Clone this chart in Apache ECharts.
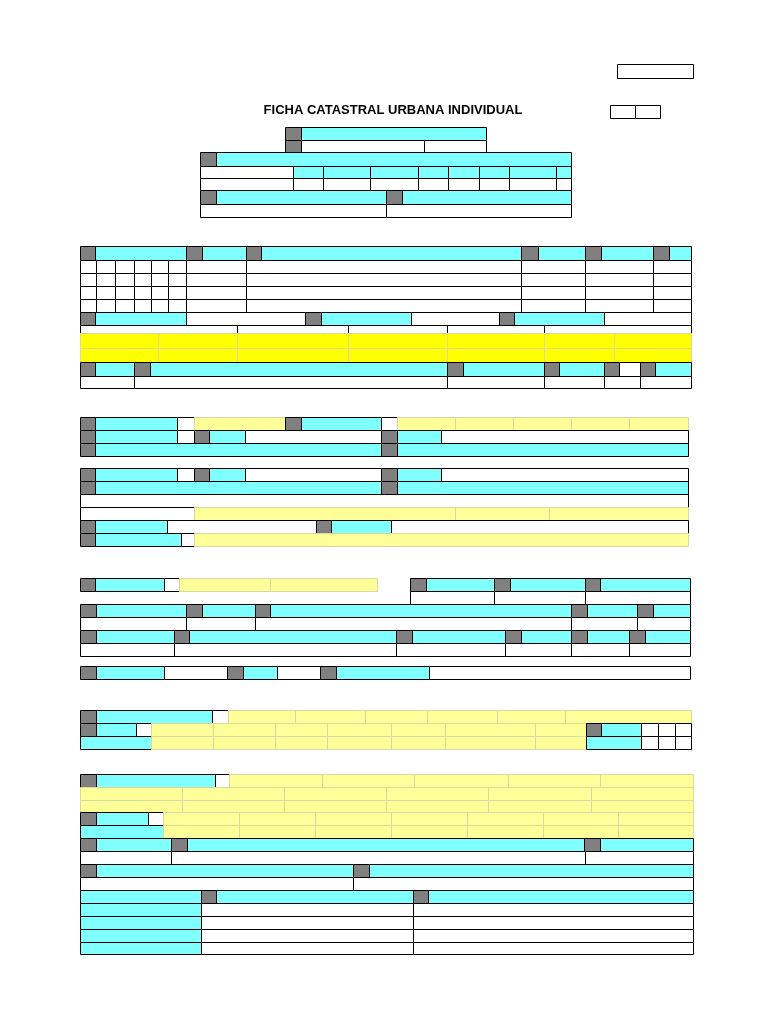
<!DOCTYPE html>
<html lang="en">
<head>
<meta charset="UTF-8">
<title>Ficha catastral</title>
<script src="https://cdn.jsdelivr.net/npm/echarts@6/dist/echarts.min.js"></script>
<style>html,body{margin:0;background:#fff}</style>
</head>
<body>
<div id="main" style="width:768px;height:1024px;"></div>
<script>
// each row: [top, bottom, cell edges, cell kinds]  g=gray c=cyan y=pale yellow Y=yellow w=white -=none
var rowsHeader = [
  [64, 78, [617, 693], 'w'],
  [105, 118, [610, 635, 660], 'ww']
];
var rowsBlock1 = [
  [127, 140, [285, 301, 486], 'gc'],
  [140, 152, [285, 301, 424, 486], 'gww'],
  [152, 166, [200, 216, 571], 'gc'],
  [166, 178, [200, 293, 323, 370, 418, 448, 479, 509, 556, 571], 'wcccccccc'],
  [178, 190, [200, 293, 323, 370, 418, 448, 479, 509, 556, 571], 'wwwwwwwww'],
  [190, 204, [200, 216, 386, 402, 571], 'gcgc'],
  [204, 217, [200, 386, 571], 'ww']
];
var rowsBlock2 = [
  [246, 260, [80, 95, 186, 202, 246, 261, 521, 538, 585, 601, 653, 669, 691], 'gcgcgcgcgcgc'],
  [260, 273, [80, 96, 115, 134, 151, 168, 186, 246, 521, 585, 653, 691], 'wwwwwwwwwww'],
  [273, 286, [80, 96, 115, 134, 151, 168, 186, 246, 521, 585, 653, 691], 'wwwwwwwwwww'],
  [286, 299, [80, 96, 115, 134, 151, 168, 186, 246, 521, 585, 653, 691], 'wwwwwwwwwww'],
  [299, 312, [80, 96, 115, 134, 151, 168, 186, 246, 521, 585, 653, 691], 'wwwwwwwwwww'],
  [312, 325, [80, 95, 186, 305, 321, 411, 499, 514, 604, 691], 'gcwgcwgcw'],
  [325, 333, [80, 237, 348, 447, 544, 691], 'wwwww'],
  [333, 348, [80, 158, 237, 348, 447, 544, 614, 691], 'YYYYYYY'],
  [348, 362, [80, 158, 237, 348, 447, 544, 614, 691], 'YYYYYYY'],
  [362, 376, [80, 95, 134, 150, 447, 463, 544, 559, 604, 619, 640, 655, 691], 'gcgcgcgcgwgc'],
  [376, 388, [80, 134, 447, 544, 604, 640, 691], 'wwwwww']
];
var rowsBlock3 = [
  [417, 430, [80, 95, 177, 194, 285, 301, 381, 397, 455, 513, 571, 629, 688], 'gcwygcwyyyyy'],
  [430, 443, [80, 95, 177, 194, 209, 245, 381, 397, 441, 688], 'gcwgcwgcw'],
  [443, 456, [80, 95, 381, 397, 688], 'gcgc'],
  [468, 481, [80, 95, 177, 194, 209, 245, 381, 397, 441, 688], 'gcwgcwgcw'],
  [481, 494, [80, 95, 381, 397, 688], 'gcgc'],
  [494, 507, [80, 688], 'w'],
  [507, 520, [80, 194, 455, 549, 688], 'wyyy'],
  [520, 533, [80, 95, 167, 316, 331, 391, 688], 'gcwgcw'],
  [533, 546, [80, 95, 181, 194, 688], 'gcwy']
];
var rowsBlock4 = [
  [578, 591, [80, 95, 164, 179, 270, 377, 410, 426, 494, 510, 585, 600, 690], 'gcwyy-gcgcgc'],
  [591, 604, [410, 494, 585, 690], 'www'],
  [604, 617, [80, 96, 186, 202, 255, 270, 571, 587, 637, 653, 690], 'gcgcgcgcgc'],
  [617, 630, [80, 186, 255, 571, 637, 690], 'wwwww'],
  [630, 643, [80, 96, 174, 189, 396, 412, 505, 521, 571, 587, 629, 645, 690], 'gcgcgcgcgcgc'],
  [643, 656, [80, 174, 396, 505, 571, 629, 690], 'wwwwww'],
  [666, 679, [80, 96, 164, 227, 243, 277, 320, 336, 429, 690], 'gcwgcwgcw']
];
var rowsBlock5 = [
  [710, 723, [80, 96, 212, 228, 295, 365, 427, 497, 565, 691], 'gcwyyyyyy'],
  [723, 736, [80, 96, 136, 151, 213, 275, 327, 391, 445, 535, 586, 601, 641, 658, 675, 691], 'gcwyyyyyyygcwww'],
  [736, 749, [80, 151, 213, 275, 327, 391, 445, 535, 586, 641, 658, 675, 691], 'cyyyyyyycwww']
];
var rowsBlock6 = [
  [774, 787, [80, 96, 215, 229, 322, 414, 508, 600, 693], 'gcwyyyyy'],
  [787, 800, [80, 182, 284, 386, 488, 591, 693], 'yyyyyy'],
  [800, 812, [80, 182, 284, 386, 488, 591, 693], 'yyyyyy'],
  [812, 825, [80, 96, 148, 163, 239, 315, 391, 467, 543, 618, 693], 'gcwyyyyyyy'],
  [825, 838, [80, 163, 239, 315, 391, 467, 543, 618, 693], 'cyyyyyyy'],
  [838, 851, [80, 96, 171, 187, 584, 600, 693], 'gcgcgc'],
  [851, 864, [80, 171, 585, 693], 'www'],
  [864, 877, [80, 96, 353, 369, 693], 'gcgc'],
  [877, 890, [80, 353, 693], 'ww'],
  [890, 903, [80, 201, 216, 413, 428, 693], 'cgcgc'],
  [903, 916, [80, 201, 413, 693], 'cww'],
  [916, 929, [80, 201, 413, 693], 'cww'],
  [929, 942, [80, 201, 413, 693], 'cww'],
  [942, 954, [80, 201, 413, 693], 'cww']
];
var titleText = 'FICHA CATASTRAL URBANA INDIVIDUAL';

var fills = { g: '#808080', c: '#80FFFF', y: '#FFFF99', Y: '#FFFF00', w: '#FFFFFF' };

var cells = [];
[rowsHeader, rowsBlock1, rowsBlock2, rowsBlock3, rowsBlock4, rowsBlock5, rowsBlock6].forEach(function (block) {
  block.forEach(function (r) {
    for (var i = 0; i < r[3].length; i++) {
      var k = r[3][i];
      if (k === '-') continue;
      cells.push([r[2][i], r[0], r[2][i + 1], r[1], k]);
    }
  });
});

var chart = echarts.init(document.getElementById('main'));
chart.setOption({
  animation: false,
  title: {
    text: titleText, left: 388, top: 99, textAlign: 'center',
    textStyle: { fontFamily: 'Liberation Sans', fontWeight: 'bold', fontSize: 13, color: '#000' }
  },
  grid: { left: 0, right: 0, top: 0, bottom: 0 },
  xAxis: { type: 'value', min: 0, max: 768, show: false },
  yAxis: { type: 'value', min: 0, max: 1024, inverse: true, show: false },
  series: [{
    type: 'custom',
    data: cells,
    encode: { x: [0, 2], y: [1, 3] },
    renderItem: function (params, api) {
      var p0 = api.coord([api.value(0), api.value(1)]);
      var p1 = api.coord([api.value(2), api.value(3)]);
      var k = cells[params.dataIndex][4];
      return {
        type: 'rect',
        shape: { x: Math.round(p0[0]) + 0.5, y: Math.round(p0[1]) + 0.5, width: Math.round(p1[0] - p0[0]), height: Math.round(p1[1] - p0[1]) },
        style: { fill: fills[k], stroke: k === 'y' || k === 'Y' ? '#d8d8a0' : '#000', lineWidth: 1 }
      };
    }
  }]
});
</script>
</body>
</html>
